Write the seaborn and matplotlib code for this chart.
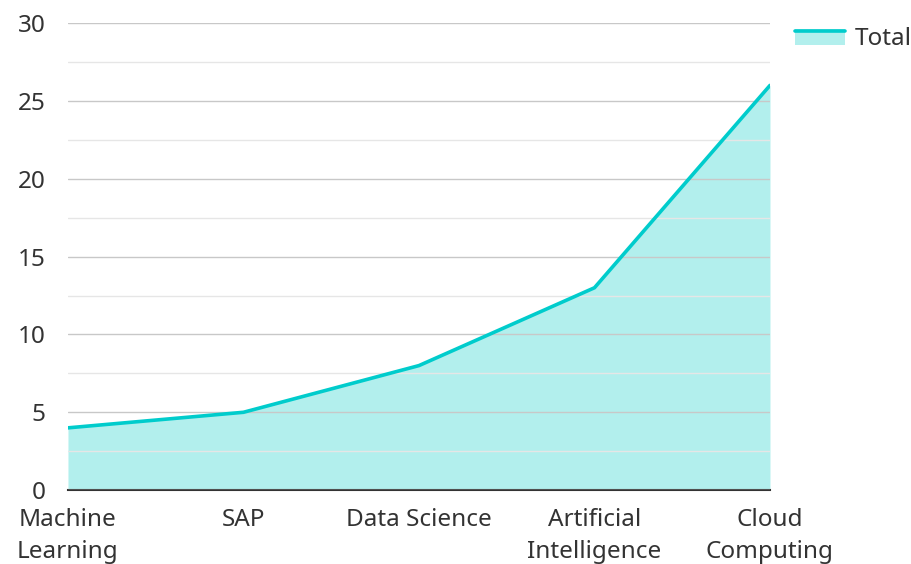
import pandas as pd
import seaborn as sns
import matplotlib.pyplot as plt
from matplotlib.patches import Rectangle
from matplotlib.lines import Line2D
from matplotlib.legend_handler import HandlerBase
from matplotlib.ticker import MultipleLocator

# data
categories = ['Machine\nLearning', 'SAP', 'Data Science', 'Artificial\nIntelligence', 'Cloud\nComputing']
totals = [4, 5, 8, 13, 26]

line_color = '#00cccc'
fill_color = '#b2efed'
text_color = '#333333'
fs = 17.5


class AreaLegendHandler(HandlerBase):
    # filled box with the line along its top edge
    def create_artists(self, legend, orig_handle, xdescent, ydescent,
                       width, height, fontsize, trans):
        x0, y0 = -xdescent, -ydescent
        box = Rectangle((x0, y0), width, height, facecolor=fill_color,
                        edgecolor='none', transform=trans)
        top = Line2D([x0, x0 + width], [y0 + height * 0.85] * 2,
                     color=line_color, lw=2.6, transform=trans)
        return [box, top]


sns.set_style('white')
plt.rcParams['font.family'] = ['Noto Sans', 'DejaVu Sans']

df = pd.DataFrame({'pos': range(len(categories)), 'Total': totals})

fig = plt.figure(figsize=(9.11, 5.64), dpi=100)
ax = fig.add_axes([0.0746, 0.131, 0.7706, 0.828])

ax.fill_between(df['pos'], 0, df['Total'], color=fill_color, lw=0, zorder=1)
sns.lineplot(data=df, x='pos', y='Total', color=line_color, linewidth=2.6, ax=ax, zorder=3)

ax.set_xlim(0, len(categories) - 1)
ax.set_ylim(0, 30)
ax.yaxis.set_major_locator(MultipleLocator(5))
ax.yaxis.set_minor_locator(MultipleLocator(2.5))
ax.set_axisbelow(False)
ax.grid(which='major', axis='y', color='#c8c8c8', lw=1, zorder=2)
ax.grid(which='minor', axis='y', color='#e6e6e6', lw=1, zorder=2)
ax.grid(axis='x', visible=False)

ax.set_xticks(df['pos'])
ax.set_xticklabels(categories)
ax.tick_params(axis='both', which='both', length=0, labelsize=fs, colors=text_color)
ax.tick_params(axis='x', pad=13)
ax.tick_params(axis='y', pad=16)
for lbl in ax.get_xticklabels():
    lbl.set_linespacing(1.45)

for side in ['top', 'right', 'left']:
    ax.spines[side].set_visible(False)
ax.spines['bottom'].set_color(text_color)
ax.spines['bottom'].set_linewidth(1.5)
ax.set_xlabel('')
ax.set_ylabel('')

leg = ax.legend([object()], ['Total'], handler_map={object: AreaLegendHandler()},
                loc='upper left', bbox_to_anchor=(1.0356, 0.991), borderaxespad=0,
                borderpad=0, frameon=False, fontsize=fs, handlelength=2.05,
                handleheight=0.65, handletextpad=0.4)
for t in leg.get_texts():
    t.set_color(text_color)

fig.savefig('out.png', dpi=100)
